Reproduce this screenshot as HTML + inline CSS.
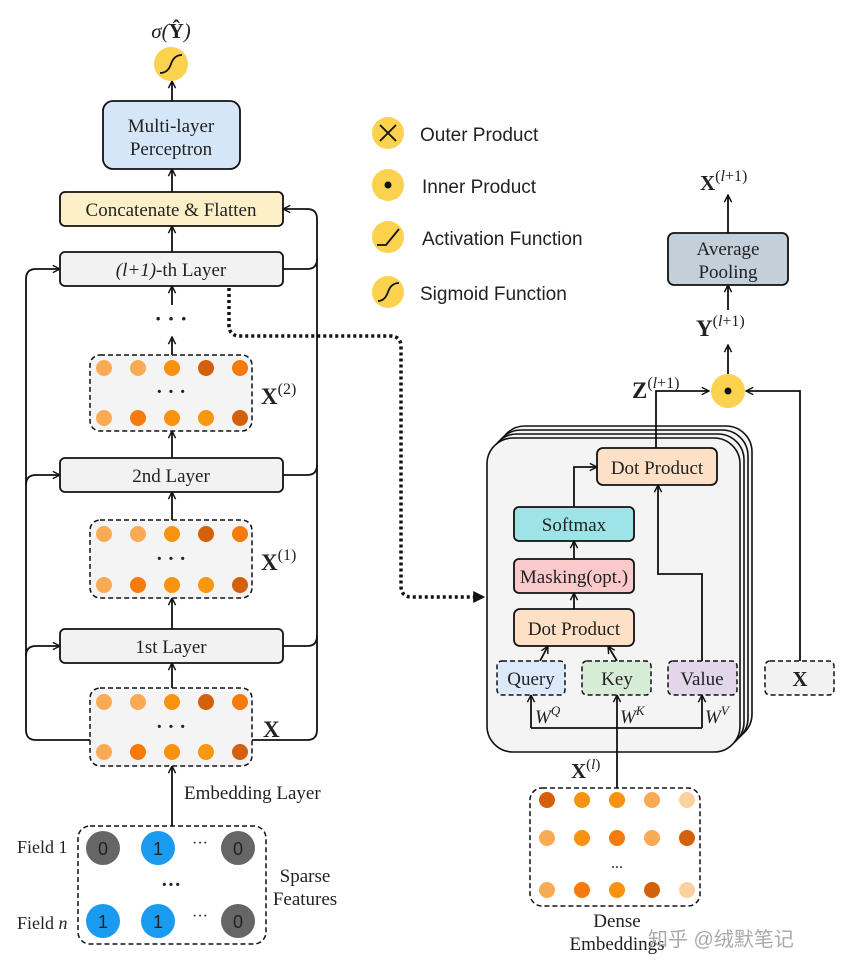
<!DOCTYPE html>
<html><head><meta charset="utf-8"><style>body{margin:0;background:#fff}svg{display:block}text{font-family:"Liberation Serif",serif;fill:#222}</style></head><body>
<svg width="846" height="972" viewBox="0 0 846 972" xmlns="http://www.w3.org/2000/svg">
<defs>
<marker id="a" viewBox="0 0 10 10" refX="9" refY="5" markerWidth="9" markerHeight="9" orient="auto" markerUnits="userSpaceOnUse"><path d="M1,1 L9,5 L1,9" fill="none" stroke="#111" stroke-width="1.6"/></marker>
<marker id="t" viewBox="0 0 10 10" refX="9" refY="5" markerWidth="12" markerHeight="12" orient="auto" markerUnits="userSpaceOnUse"><path d="M0,0 L10,5 L0,10 z" fill="#111"/></marker>
<g id="dots1"><circle cx="104" cy="0" r="8" fill="#f9aa55"/><circle cx="138" cy="0" r="8" fill="#f9aa55"/><circle cx="172" cy="0" r="8" fill="#f8920f"/><circle cx="206" cy="0" r="8" fill="#d5600c"/><circle cx="240" cy="0" r="8" fill="#f67a0c"/></g>
<g id="dots2"><circle cx="104" cy="0" r="8" fill="#f9aa55"/><circle cx="138" cy="0" r="8" fill="#f67a0c"/><circle cx="172" cy="0" r="8" fill="#f8920f"/><circle cx="206" cy="0" r="8" fill="#f8980f"/><circle cx="240" cy="0" r="8" fill="#d5600c"/></g>
</defs>
<g stroke="#111" stroke-width="1.8" fill="none">
<path d="M90,740 H36 Q26,740 26,730 V279 Q26,269 36,269 H60" marker-end="url(#a)"/>
<path d="M26,485 Q26,475 36,475 H60" marker-end="url(#a)"/>
<path d="M26,656 Q26,646 36,646 H60" marker-end="url(#a)"/>
<path d="M252,740 H307 Q317,740 317,730 V219 Q317,209 307,209 H283" marker-end="url(#a)"/>
<path d="M283,269 H307 Q317,269 317,259"/>
<path d="M283,475 H307 Q317,475 317,465"/>
<path d="M283,646 H307 Q317,646 317,636"/>
<path d="M172,826 V766" marker-end="url(#a)"/>
<path d="M172,688 V663" marker-end="url(#a)"/>
<path d="M172,629 V598" marker-end="url(#a)"/>
<path d="M172,520 V492" marker-end="url(#a)"/>
<path d="M172,458 V431" marker-end="url(#a)"/>
<path d="M172,355 V337" marker-end="url(#a)"/>
<path d="M172,305 V286" marker-end="url(#a)"/>
<path d="M172,252 V226" marker-end="url(#a)"/>
<path d="M172,192 V169" marker-end="url(#a)"/>
<path d="M172,101 V81" marker-end="url(#a)"/>
<path d="M229,288 V325 Q229,336 240,336 H390 Q401,336 401,347 V586 Q401,597 412,597 H484" stroke-width="3.5" stroke-dasharray="3,3" marker-end="url(#t)"/>
</g>
<text x="171" y="38" font-size="21" text-anchor="middle" font-style="italic">σ(<tspan font-weight="bold" font-style="normal">Ŷ</tspan>)</text>
<circle cx="171" cy="64" r="17" fill="#fbd24e"/>
<path d="M160,73 Q168,73 171,64 T182,55" stroke="#111" stroke-width="1.8" fill="none"/>
<rect x="103" y="101" width="137" height="68" rx="10" fill="#d6e6f9" stroke="#111" stroke-width="1.8"/>
<text x="171" y="132" font-size="19" text-anchor="middle">Multi-layer</text>
<text x="171" y="155" font-size="19" text-anchor="middle">Perceptron</text>
<rect x="60" y="192" width="223" height="34" rx="5" fill="#fdf0c8" stroke="#111" stroke-width="1.8"/>
<text x="171" y="216" font-size="19" text-anchor="middle">Concatenate &amp; Flatten</text>
<rect x="60" y="252" width="223" height="34" rx="5" fill="#f2f2f2" stroke="#111" stroke-width="1.8"/>
<text x="171" y="276" font-size="19" text-anchor="middle" fill="#444"><tspan font-style="italic">(l+1)</tspan>-th Layer</text>
<text x="171" y="326" font-size="22" text-anchor="middle" font-weight="bold">· · ·</text>
<rect x="90" y="355" width="162" height="76" rx="10" fill="#f4f4f4" stroke="#111" stroke-width="1.5" stroke-dasharray="5,3"/>
<use href="#dots1" y="368"/><use href="#dots2" y="418"/>
<text x="171" y="398" font-size="20" text-anchor="middle" font-weight="bold">· · ·</text>
<text x="261" y="404" font-size="23" font-weight="bold">X<tspan font-size="16" font-weight="normal" dy="-10">(2)</tspan></text>
<rect x="60" y="458" width="223" height="34" rx="5" fill="#f2f2f2" stroke="#111" stroke-width="1.8"/>
<text x="171" y="482" font-size="19" text-anchor="middle" fill="#444">2nd Layer</text>
<rect x="90" y="520" width="162" height="78" rx="10" fill="#f4f4f4" stroke="#111" stroke-width="1.5" stroke-dasharray="5,3"/>
<use href="#dots1" y="534"/><use href="#dots2" y="585"/>
<text x="171" y="565" font-size="20" text-anchor="middle" font-weight="bold">· · ·</text>
<text x="261" y="570" font-size="23" font-weight="bold">X<tspan font-size="16" font-weight="normal" dy="-10">(1)</tspan></text>
<rect x="60" y="629" width="223" height="34" rx="5" fill="#f2f2f2" stroke="#111" stroke-width="1.8"/>
<text x="171" y="653" font-size="19" text-anchor="middle" fill="#444">1st Layer</text>
<rect x="90" y="688" width="162" height="78" rx="10" fill="#f4f4f4" stroke="#111" stroke-width="1.5" stroke-dasharray="5,3"/>
<use href="#dots1" y="702"/><use href="#dots2" y="752"/>
<text x="171" y="733" font-size="20" text-anchor="middle" font-weight="bold">· · ·</text>
<text x="263" y="737" font-size="23" font-weight="bold">X</text>
<text x="184" y="799" font-size="19">Embedding Layer</text>
<rect x="78" y="826" width="188" height="118" rx="12" fill="#fff" stroke="#111" stroke-width="1.5" stroke-dasharray="5,3"/>
<g font-size="18" text-anchor="middle">
<circle cx="103" cy="848" r="17" fill="#666"/><text x="103" y="855" style="font-family:'Liberation Sans'">0</text>
<circle cx="158" cy="848" r="17" fill="#1a9bf0"/><text x="158" y="855" style="font-family:'Liberation Sans'">1</text>
<circle cx="238" cy="848" r="17" fill="#666"/><text x="238" y="855" style="font-family:'Liberation Sans'">0</text>
<circle cx="103" cy="921" r="17" fill="#1a9bf0"/><text x="103" y="928" style="font-family:'Liberation Sans'">1</text>
<circle cx="158" cy="921" r="17" fill="#1a9bf0"/><text x="158" y="928" style="font-family:'Liberation Sans'">1</text>
<circle cx="238" cy="921" r="17" fill="#666"/><text x="238" y="928" style="font-family:'Liberation Sans'">0</text>
</g>
<text x="200" y="848" font-size="16" text-anchor="middle">···</text>
<text x="200" y="921" font-size="16" text-anchor="middle">···</text>
<text x="171" y="891" font-size="20" text-anchor="middle" font-weight="bold">···</text>
<text x="17" y="853" font-size="18">Field 1</text>
<text x="17" y="929" font-size="18">Field <tspan font-style="italic">n</tspan></text>
<text x="305" y="882" font-size="19" text-anchor="middle">Sparse</text>
<text x="305" y="905" font-size="19" text-anchor="middle">Features</text>
<circle cx="388" cy="133" r="16" fill="#fbd24e"/><path d="M380,125 L396,141 M396,125 L380,141" stroke="#111" stroke-width="1.8"/>
<text x="420" y="141" font-size="19" style="font-family:'Liberation Sans'">Outer Product</text>
<circle cx="388" cy="185" r="16" fill="#fbd24e"/><circle cx="388" cy="185" r="3.5" fill="#111"/>
<text x="422" y="193" font-size="19" style="font-family:'Liberation Sans'">Inner Product</text>
<circle cx="388" cy="237" r="16" fill="#fbd24e"/><path d="M377,245 H386 L399,229" stroke="#111" stroke-width="1.8" fill="none"/>
<text x="422" y="245" font-size="19" style="font-family:'Liberation Sans'">Activation Function</text>
<circle cx="388" cy="292" r="16" fill="#fbd24e"/><path d="M378,301 Q385,301 388,292 T399,283" stroke="#111" stroke-width="1.8" fill="none"/>
<text x="420" y="300" font-size="19" style="font-family:'Liberation Sans'">Sigmoid Function</text>
<g stroke="#111" stroke-width="1.6" fill="#f4f4f4">
<rect x="499" y="426" width="253" height="314" rx="26"/>
<rect x="495" y="430" width="253" height="314" rx="26"/>
<rect x="491" y="434" width="253" height="314" rx="26"/>
<rect x="487" y="438" width="253" height="314" rx="26"/>
</g>
<g stroke="#111" stroke-width="1.8" fill="none">
<path d="M656,448 V391 H709" marker-end="url(#a)"/>
<path d="M800,661 V391 H746" marker-end="url(#a)"/>
<path d="M728,374 V345" marker-end="url(#a)"/>
<path d="M728,310 V285" marker-end="url(#a)"/>
<path d="M728,233 V195" marker-end="url(#a)"/>
<path d="M574,507 V467 H597" marker-end="url(#a)"/>
<path d="M574,559 V541" marker-end="url(#a)"/>
<path d="M574,609 V593" marker-end="url(#a)"/>
<path d="M702,661 V574 H658 V485" marker-end="url(#a)"/>
<path d="M540,661 L548,646" marker-end="url(#a)"/>
<path d="M617,661 L608,646" marker-end="url(#a)"/>
<path d="M531,728 H702"/>
<path d="M531,728 V695" marker-end="url(#a)"/>
<path d="M702,728 V695" marker-end="url(#a)"/>
<path d="M617,788 V695" marker-end="url(#a)"/>
</g>
<circle cx="728" cy="391" r="17" fill="#fbd24e"/><circle cx="728" cy="391" r="3.5" fill="#111"/>
<text x="632" y="398" font-size="23" font-weight="bold">Z<tspan font-size="16" font-weight="normal" dy="-10">(<tspan font-style="italic">l</tspan>+1)</tspan></text>
<text x="696" y="336" font-size="23" font-weight="bold">Y<tspan font-size="16" font-weight="normal" dy="-10">(<tspan font-style="italic">l</tspan>+1)</tspan></text>
<text x="700" y="190" font-size="21" font-weight="bold">X<tspan font-size="16" font-weight="normal" dy="-9">(<tspan font-style="italic">l</tspan>+1)</tspan></text>
<rect x="668" y="233" width="120" height="52" rx="6" fill="#c3d0da" stroke="#111" stroke-width="1.8"/>
<text x="728" y="255" font-size="19" text-anchor="middle">Average</text>
<text x="728" y="278" font-size="19" text-anchor="middle">Pooling</text>
<rect x="597" y="448" width="120" height="37" rx="6" fill="#fde0c6" stroke="#111" stroke-width="1.8"/>
<text x="657" y="474" font-size="19" text-anchor="middle">Dot Product</text>
<rect x="514" y="507" width="120" height="34" rx="5" fill="#9ee3e6" stroke="#111" stroke-width="1.8"/>
<text x="574" y="531" font-size="19" text-anchor="middle">Softmax</text>
<rect x="514" y="559" width="120" height="34" rx="5" fill="#f9c9cc" stroke="#111" stroke-width="1.8"/>
<text x="574" y="583" font-size="19" text-anchor="middle">Masking(opt.)</text>
<rect x="514" y="609" width="120" height="37" rx="6" fill="#fde0c6" stroke="#111" stroke-width="1.8"/>
<text x="574" y="635" font-size="19" text-anchor="middle">Dot Product</text>
<g stroke="#111" stroke-width="1.5" stroke-dasharray="5,3">
<rect x="497" y="661" width="68" height="34" rx="5" fill="#dbe9fb"/>
<rect x="582" y="661" width="69" height="34" rx="5" fill="#d7ecd6"/>
<rect x="668" y="661" width="69" height="34" rx="5" fill="#e2d6ea"/>
<rect x="765" y="661" width="69" height="34" rx="5" fill="#f2f2f2"/>
</g>
<text x="531" y="685" font-size="19" text-anchor="middle">Query</text>
<text x="617" y="685" font-size="19" text-anchor="middle">Key</text>
<text x="702" y="685" font-size="19" text-anchor="middle" fill="#444">Value</text>
<text x="800" y="686" font-size="21" text-anchor="middle" font-weight="bold" fill="#444">X</text>
<text x="535" y="723" font-size="19" font-style="italic">W<tspan font-size="13" dy="-8">Q</tspan></text>
<text x="620" y="723" font-size="19" font-style="italic">W<tspan font-size="13" dy="-8">K</tspan></text>
<text x="705" y="723" font-size="19" font-style="italic">W<tspan font-size="13" dy="-8">V</tspan></text>
<text x="571" y="778" font-size="21" font-weight="bold">X<tspan font-size="15" font-weight="normal" dy="-9">(<tspan font-style="italic">l</tspan>)</tspan></text>
<rect x="530" y="788" width="170" height="118" rx="12" fill="#fff" stroke="#111" stroke-width="1.5" stroke-dasharray="5,3"/>
<g>
<circle cx="547" cy="800" r="8" fill="#d5600c"/><circle cx="582" cy="800" r="8" fill="#f8920f"/><circle cx="617" cy="800" r="8" fill="#f8920f"/><circle cx="652" cy="800" r="8" fill="#f9aa55"/><circle cx="687" cy="800" r="8" fill="#fbd1a0"/>
<circle cx="547" cy="838" r="8" fill="#f9aa55"/><circle cx="582" cy="838" r="8" fill="#f8920f"/><circle cx="617" cy="838" r="8" fill="#f67a0c"/><circle cx="652" cy="838" r="8" fill="#f9aa55"/><circle cx="687" cy="838" r="8" fill="#d5600c"/>
<circle cx="547" cy="890" r="8" fill="#f9aa55"/><circle cx="582" cy="890" r="8" fill="#f67a0c"/><circle cx="617" cy="890" r="8" fill="#f8920f"/><circle cx="652" cy="890" r="8" fill="#d5600c"/><circle cx="687" cy="890" r="8" fill="#fbd1a0"/>
</g>
<text x="617" y="868" font-size="16" text-anchor="middle">...</text>
<text x="617" y="927" font-size="19" text-anchor="middle">Dense</text>
<text x="617" y="950" font-size="19" text-anchor="middle">Embeddings</text>
<text x="648" y="946" font-size="20" style="font-family:'Liberation Sans','Noto Sans CJK SC',sans-serif;fill:#aaa">知乎 @绒默笔记</text>
</svg>
</body></html>
